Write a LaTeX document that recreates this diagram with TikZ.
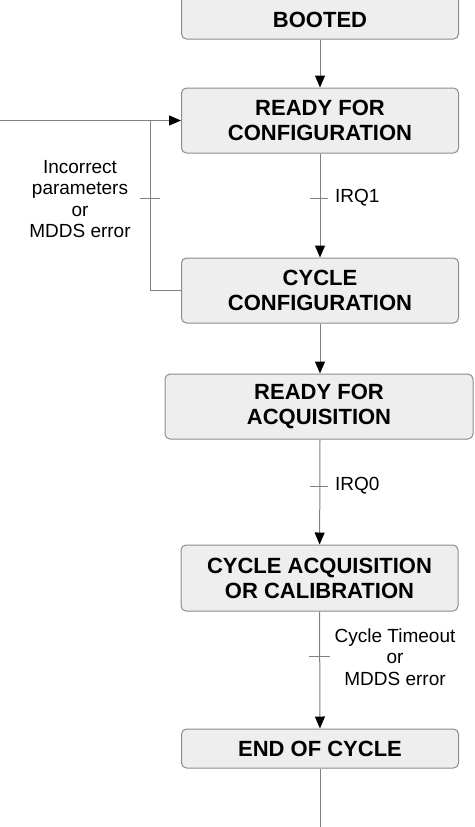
\documentclass[tikz,border=0pt]{standalone}
\usepackage{fontspec}
\setmainfont{Liberation Sans}
\usetikzlibrary{arrows.meta}
\definecolor{boxfill}{HTML}{EEEEEE}
\definecolor{boxline}{HTML}{8C8C8C}
\definecolor{wire}{HTML}{808080}
\tikzset{
	state/.style={draw=boxline,fill=boxfill,rounded corners=5pt,line width=1pt,align=center,
		minimum width=277pt,minimum height=65pt,inner sep=0pt,
		font=\bfseries\fontsize{22}{25}\selectfont},
	wire/.style={draw=wire,line width=1pt},
	cond/.style={align=center,inner sep=0pt,font=\fontsize{19}{21.5}\selectfont}
}
\begin{document}
\begin{tikzpicture}[>={Triangle[width=10pt,length=12pt,color=black]},x=1pt,y=-1pt]
		\useasboundingbox (0,0) rectangle (474,827);
		\node[state,minimum height=49pt] (booted) at (320,14.5) {};
		\node[font=\bfseries\fontsize{22}{25}\selectfont] (bootedtxt) at (320,19.5) {BOOTED};
		\node[state] (rfc) at (320,120.5) {READY FOR\\CONFIGURATION};
		\node[state] (cc) at (320,290.5) {CYCLE\\CONFIGURATION};
		\node[state,minimum width=308pt] (rfa) at (319,406.5) {READY FOR\\ACQUISITION};
		\node[state,minimum height=66pt] (cac) at (319.5,578) {CYCLE ACQUISITION\\OR CALIBRATION};
		\node[state,minimum height=39pt] (eoc) at (320,748.5) {END OF CYCLE};
		\coordinate (in) at (0,120.5);
		\coordinate (loop) at (150,120.5);
		\coordinate (out) at (320,827);
		\coordinate (t0) at (150,198);
		\coordinate (t1) at (320,198);
		\coordinate (t2) at (320,486);
		\coordinate (t3) at (320,656);
		% main flow
		\draw[wire,->] (booted) -- (rfc);
		\draw[wire,->] (rfc) -- (cc);
		\draw[wire,->] (cc) -- (cc |- rfa.north);
		\draw[wire,->] (rfa.south -| cc) -- (cac);
		\draw[wire,->] (cac) -- (eoc);
		\draw[wire] (eoc) -- (out);
		% error loop
		\draw[wire,->] (in) -- (rfc.west);
		\draw[wire] (cc.west) -| (loop);
		% transitions
		\draw[wire] (t0) +(-10,0) -- +(10,0);
		\draw[wire] (t1) +(-10,0) -- +(8,0);
		\draw[wire] (t2) +(-10,0) -- +(8,0);
		\draw[wire] (t3) +(-11,0) -- +(10,0);
		\node[cond] (errcfg) at (80,199) {Incorrect\\parameters\\or\\MDDS error};
		\node[cond,anchor=west] (irq1) at (335,198) {IRQ1};
		\node[cond,anchor=west] (irq0) at (335,486) {IRQ0};
		\node[cond] (timeout) at (395,657) {Cycle Timeout\\or\\MDDS error};
\end{tikzpicture}
\end{document}
